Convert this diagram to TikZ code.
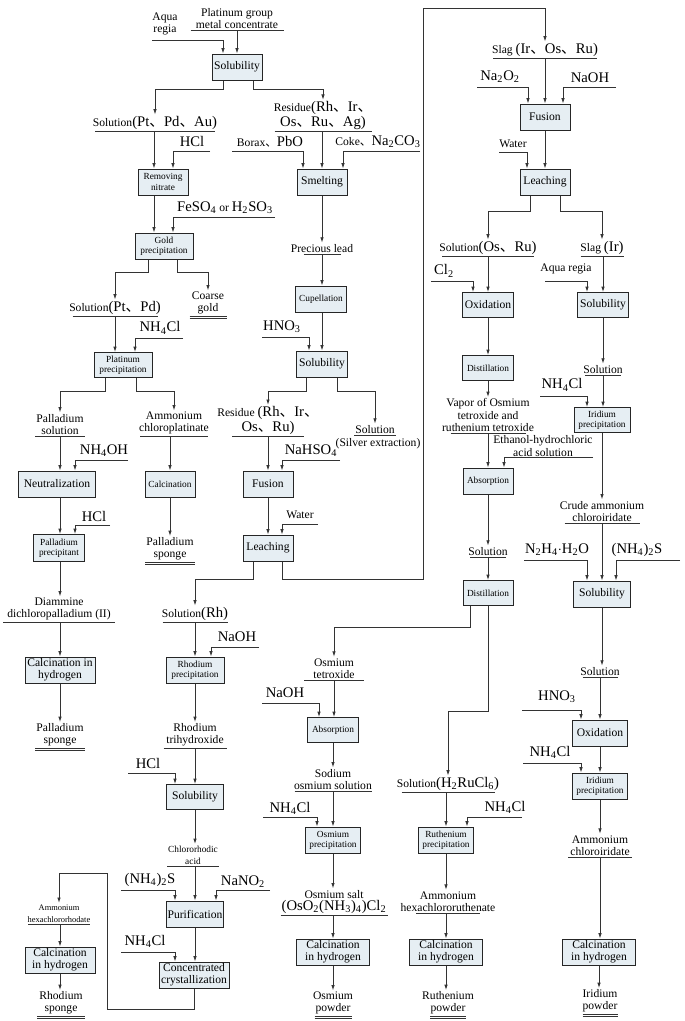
\documentclass[tikz,border=0pt]{standalone}
\usepackage{fontspec}
\setmainfont{Liberation Serif}
\newfontfamily\cjk{Noto Sans CJK SC}
\usetikzlibrary{arrows.meta}
\newcommand\dun{{\cjk 、}}
\newcommand\fa{\fontsize{8.7}{9.2}\selectfont}
\newcommand\fb{\fontsize{11}{11.5}\selectfont}
\newcommand\fc{\fontsize{7}{7.6}\selectfont}
\newcommand\sub[1]{\textsubscript{#1}}
\definecolor{boxfill}{RGB}{230,238,243}
\tikzset{
 box/.style={draw=black!85,fill=boxfill,line width=0.75pt,inner sep=0pt,align=center,font=\fa},
 lbl/.style={align=center,inner sep=1pt,font=\fa},
 arr/.style={-{Latex[length=4pt,width=2.6pt]},line width=0.6pt,black!80},
 uline/.style={line width=0.6pt,black!80}
}
\newcommand\mybox[6]{\node[box,minimum width=#3*0.75pt,minimum height=#4*0.75pt,#5] (#1) at (#2) {#6};}
\newcommand\lab[4]{\node[lbl,anchor=south] (#1) at (#2) {#4};
 \draw[uline] ([xshift=-#3*0.375pt]#1.south) -- ([xshift=#3*0.375pt]#1.south);}
\newcommand\labd[4]{\lab{#1}{#2}{#3}{#4}
 \draw[uline] ([xshift=-#3*0.375pt,yshift=-1.7pt]#1.south) -- ([xshift=#3*0.375pt,yshift=-1.7pt]#1.south);}
\newcommand\vd[3]{\path (#1) ++(#2,0) coordinate (tmp); \draw[arr] (tmp) -- (tmp |- #3.north);}
\newcommand\brn[4]{\path (#1) ++(#2,0) coordinate (tmp); \draw[arr] (tmp) -- ++(0,#3) -| (#4.north);}
\newcommand\rg[6]{\node[lbl] (#1) at (#2) {#3}; \path (#6.north) ++(#5,0) coordinate (tmp); \draw[arr] (#4) -| (tmp);}
\begin{document}
\begin{tikzpicture}[x=0.75pt,y=-0.75pt]
\useasboundingbox (0,0) rectangle (685,1021);
% ---- top
\lab{pgm}{237,30}{93}{Platinum group\\metal concentrate}
\mybox{s1}{237,67}{50}{26}{}{Solubility}
\rg{aq1}{165,24}{Aqua\\regia}{152,40}{-14}{s1}
\vd{pgm.south}{0}{s1}
\lab{solA}{155,131}{120}{Solution{\fb(Pt\dun Pd\dun Au)}}
\lab{resA}{323,131}{97}{Residue{\fb(Rh\dun Ir\dun}\\{\fb Os\dun Ru\dun Ag)}}
\brn{s1.south}{-14}{9}{solA}
\brn{s1.south}{16}{9}{resA}
% ---- Au / Pt / Pd column
\mybox{remN}{163,182}{50}{26}{font=\fc}{Removing\\nitrate}
\rg{hcl1}{192,141}{\fb HCl}{210,151}{10}{remN}
\vd{solA.south}{-1}{remN}
\mybox{gold}{164,246}{58}{26}{font=\fc}{Gold\\precipitation}
\rg{fes}{225,208}{\fb FeSO\sub4{\fa\ or }H\sub2SO\sub3}{275,217}{9}{gold}
\vd{remN.south}{-9}{gold}
\lab{solB}{115,316}{85}{Solution{\fb(Pt\dun Pd)}}
\labd{cg}{208,316}{37}{Coarse\\gold}
\brn{gold.south}{-16}{13}{solB}
\brn{gold.south}{13}{13}{cg}
\mybox{ptP}{123,365}{58}{25}{font=\fc}{Platinum\\precipitation}
\rg{nh1}{160,328}{\fb NH\sub4Cl}{183,338}{12}{ptP}
\vd{solB.south}{0}{ptP}
\lab{pdS}{60,436}{50}{Palladium\\solution}
\lab{acp}{174,436}{68}{Ammonium\\chloroplatinate}
\brn{ptP.south}{-18}{13}{pdS}
\brn{ptP.south}{13}{13}{acp}
\mybox{neut}{57,484}{77}{26}{}{Neutralization}
\rg{nh4oh}{104,451}{\fb NH\sub4OH}{128,460}{18}{neut}
\vd{pdS.south}{0}{neut}
\mybox{calc}{170,484}{50}{26}{font=\fc}{Calcination}
\vd{acp.south}{-4}{calc}
\labd{pds2}{170,562}{50}{Palladium\\sponge}
\vd{calc.south}{0}{pds2}
\mybox{pdP}{59,548}{51}{27}{font=\fc}{Palladium\\precipitant}
\rg{hcl2}{94,516}{\fb HCl}{110,525}{16}{pdP}
\vd{neut.south}{3}{pdP}
\lab{dmp}{59,622}{112}{Diammine\\dichloropalladium (II)}
\vd{pdP.south}{1}{dmp}
\mybox{cih1}{60,670}{70}{26}{}{Calcination in\\hydrogen}
\vd{dmp.south}{1}{cih1}
\labd{pds3}{60,748}{50}{Palladium\\sponge}
\vd{cih1.south}{0}{pds3}
% ---- residue column
\mybox{smelt}{322,182}{50}{26}{}{Smelting}
\rg{borax}{270,142}{Borax\dun{\fb PbO}}{232,151}{-19}{smelt}
\rg{coke}{378,142}{Coke\dun{\fb Na\sub2CO\sub3}}{420,151}{21}{smelt}
\vd{resA.south}{-1}{smelt}
\lab{pl}{322,254}{37}{Precious lead}
\vd{smelt.south}{0}{pl}
\mybox{cup}{321,299}{51}{26}{font=\fc}{Cupellation}
\vd{pl.south}{0}{cup}
\mybox{s2}{322,364}{51}{26}{}{Solubility}
\rg{hno1}{282,327}{\fb HNO\sub3}{262,337}{-13}{s2}
\vd{cup.south}{1}{s2}
\lab{resB}{268,436}{72}{Residue {\fb(Rh\dun Ir\dun}\\{\fb Os\dun Ru)}}
\lab{silv}{375,435}{42}{Solution}
\node[lbl] (silvx) at (378,444) {(Silver extraction)};
\brn{s2.south}{-16}{14}{resB}
\brn{s2.south}{15}{14}{silv}
\mybox{fus1}{268,484}{50}{26}{}{Fusion}
\rg{nahso}{311,451}{\fb NaHSO\sub4}{340,460}{14}{fus1}
\vd{resB.south}{0}{fus1}
\mybox{leach1}{268,548}{50}{26}{}{Leaching}
\rg{w1}{300,515}{Water}{318,524}{14}{leach1}
\vd{fus1.south}{0}{leach1}
\lab{solRh}{195,622}{65}{Solution{\fb(Rh)}}
\brn{leach1.south}{-15}{18}{solRh}
\lab{slag}{545,58}{104}{Slag {\fb(Ir\dun Os\dun Ru)}}
\path (leach1.south) ++(14,0) coordinate (tmp);
\draw[arr] (tmp) -- ++(0,18) -| (423,8) -| (slag.north);
% ---- Rh column
\mybox{rhP}{195,670}{58}{26}{font=\fc}{Rhodium\\precipitation}
\rg{naoh1}{237,637}{\fb NaOH}{259,647}{16}{rhP}
\vd{solRh.south}{0}{rhP}
\lab{rth}{195,748}{63}{Rhodium\\trihydroxide}
\vd{rhP.south}{0}{rth}
\mybox{s5}{195,797}{57}{25}{}{Solubility}
\rg{hcl3}{148,763}{\fb HCl}{128,773}{-20}{s5}
\vd{rth.south}{0}{s5}
\lab{chl}{193,866}{52}{\fc Chlororhodic\\\fc acid}
\vd{s5.south}{0}{chl}
\mybox{pur}{195,914}{57}{26}{}{Purification}
\rg{nh4s1}{150,880}{\fb (NH\sub4)\sub2S}{121,890}{-20}{pur}
\rg{nano}{243,882}{\fb NaNO\sub2}{270,890}{21}{pur}
\vd{chl.south}{2}{pur}
\mybox{conc}{194,975}{70}{26}{}{Concentrated\\crystallization}
\rg{nh2}{145,941}{\fb NH\sub4Cl}{121,952}{-19}{conc}
\vd{pur.south}{0}{conc}
\lab{ahrh}{59,924}{62}{\fontsize{6.3}{6.9}\selectfont Ammonium\\\fontsize{6.3}{6.9}\selectfont hexachlororhodate}
\path (conc.south) coordinate (tmp);
\draw[arr] (tmp) -- ++(0,21) -| (107,873) -| (ahrh.north);
\mybox{cihrh}{60,960}{70}{26}{}{Calcination\\in hydrogen}
\vd{ahrh.south}{1}{cihrh}
\labd{rhsp}{61,1016}{48}{Rhodium\\sponge}
\vd{cihrh.south}{0}{rhsp}
% ---- right part
\mybox{fus2}{545,117}{50}{26}{}{Fusion}
\rg{na2o2}{500,77}{\fb Na\sub2O\sub2}{477,87}{-17}{fus2}
\rg{naoh2}{590,78}{\fb NaOH}{616,87}{18}{fus2}
\vd{slag.south}{0}{fus2}
\mybox{leach2}{545,182}{50}{26}{}{Leaching}
\rg{w2}{513,144}{Water}{499,152}{-18}{leach2}
\vd{fus2.south}{0}{leach2}
\lab{solOR}{488,256}{92}{Solution{\fb(Os\dun Ru)}}
\lab{slagIr}{602,256}{43}{Slag {\fb(Ir)}}
\brn{leach2.south}{-15}{16}{solOR}
\brn{leach2.south}{15}{16}{slagIr}
\mybox{ox1}{488,305}{51}{25}{}{Oxidation}
\rg{cl2}{444,271}{\fb Cl\sub2}{431,281}{-15}{ox1}
\vd{solOR.south}{0}{ox1}
\mybox{s3}{603,305}{51}{25}{}{Solubility}
\rg{aq2}{566,269}{Aqua regia}{545,281}{-16}{s3}
\vd{slagIr.south}{1}{s3}
\mybox{dist1}{488,368}{51}{25}{font=\fc}{Distillation}
\vd{ox1.south}{0}{dist1}
\lab{vapor}{488,433}{75}{Vapor of Osmium\\tetroxide and\\ruthenium tetroxide}
\vd{dist1.south}{0}{vapor}
\lab{solR1}{603,375}{36}{Solution}
\vd{s3.south}{0}{solR1}
\mybox{irP1}{602,420}{56}{25}{font=\fc}{Iridium\\precipitation}
\rg{nh3}{562,385}{\fb NH\sub4Cl}{540,396}{-15}{irP1}
\vd{solR1.south}{0}{irP1}
\mybox{abs1}{488,481}{50}{26}{font=\fc}{Absorption}
\rg{eth}{543,446}{Ethanol-hydrochloric\\acid solution}{593,457}{16}{abs1}
\vd{vapor.south}{0}{abs1}
\lab{crude}{602,523}{75}{Crude ammonium\\chloroiridate}
\vd{irP1.south}{0}{crude}
\lab{solR2}{488,557}{36}{Solution}
\vd{abs1.south}{0}{solR2}
\mybox{dist2}{488,593}{50}{25}{font=\fc}{Distillation}
\vd{solR2.south}{0}{dist2}
\mybox{s4}{602,594}{57}{26}{}{Solubility}
\rg{n2h4}{557,550}{\fb N\sub2H\sub4$\cdot$H\sub2O}{524,560}{-15}{s4}
\rg{nh4s2}{637,550}{\fb (NH\sub4)\sub2S}{680,560}{14}{s4}
\vd{crude.south}{0}{s4}
\lab{solR3}{600,677}{35}{Solution}
\vd{s4.south}{0}{solR3}
\mybox{ox2}{600,733}{55}{26}{}{Oxidation}
\rg{hno2}{557,697}{\fb HNO\sub3}{522,710}{-19}{ox2}
\vd{solR3.south}{0}{ox2}
\mybox{irP2}{600,786}{55}{26}{font=\fc}{Iridium\\precipitation}
\rg{nh5}{550,752}{\fb NH\sub4Cl}{523,763}{-19}{irP2}
\vd{ox2.south}{0}{irP2}
\lab{acir}{600,857}{64}{Ammonium\\chloroiridate}
\vd{irP2.south}{0}{acir}
\mybox{cihir}{599,952}{73}{26}{}{Calcination\\in hydrogen}
\vd{acir.south}{0}{cihir}
\labd{irpw}{600,1014}{35}{Iridium\\powder}
\vd{cihir.south}{0}{irpw}
% ---- Os / Ru
\lab{ost}{334,680}{60}{Osmium\\tetroxide}
\lab{solRu}{448,792}{93}{Solution{\fb(H\sub2RuCl\sub6)}}
\brn{dist2.south}{-18}{21}{ost}
\brn{dist2.south}{0}{105}{solRu}
\mybox{abs2}{333,730}{51}{25}{font=\fc}{Absorption}
\rg{naoh3}{285,693}{\fb NaOH}{262,703}{-14}{abs2}
\vd{ost.south}{0}{abs2}
\lab{sos}{333,791}{77}{Sodium\\osmium solution}
\vd{abs2.south}{0}{sos}
\mybox{osP}{333,840}{55}{26}{font=\fc}{Osmium\\precipitation}
\rg{nh6}{290,808}{\fb NH\sub4Cl}{263,817}{-16}{osP}
\vd{sos.south}{0}{osP}
\lab{osS}{334,915}{107}{Osmium salt\\{\fb(OsO\sub2(NH\sub3)\sub4)Cl\sub2}}
\vd{osP.south}{0}{osS}
\mybox{cihos}{333,952}{73}{26}{}{Calcination\\in hydrogen}
\vd{osS.south}{-1}{cihos}
\labd{ospw}{333,1016}{37}{Osmium\\powder}
\vd{cihos.south}{0}{ospw}
\mybox{ruP}{446,840}{55}{26}{font=\fc}{Ruthenium\\precipitation}
\rg{nh7}{505,807}{\fb NH\sub4Cl}{522,817}{21}{ruP}
\vd{solRu.south}{-2}{ruP}
\lab{ahr}{448,913}{64}{Ammonium\\hexachlororuthenate}
\vd{ruP.south}{0}{ahr}
\mybox{cihru}{446,952}{73}{26}{}{Calcination\\in hydrogen}
\vd{ahr.south}{-2}{cihru}
\labd{rupw}{448,1016}{36}{Ruthenium\\powder}
\vd{cihru.south}{0}{rupw}
\end{tikzpicture}
\end{document}
